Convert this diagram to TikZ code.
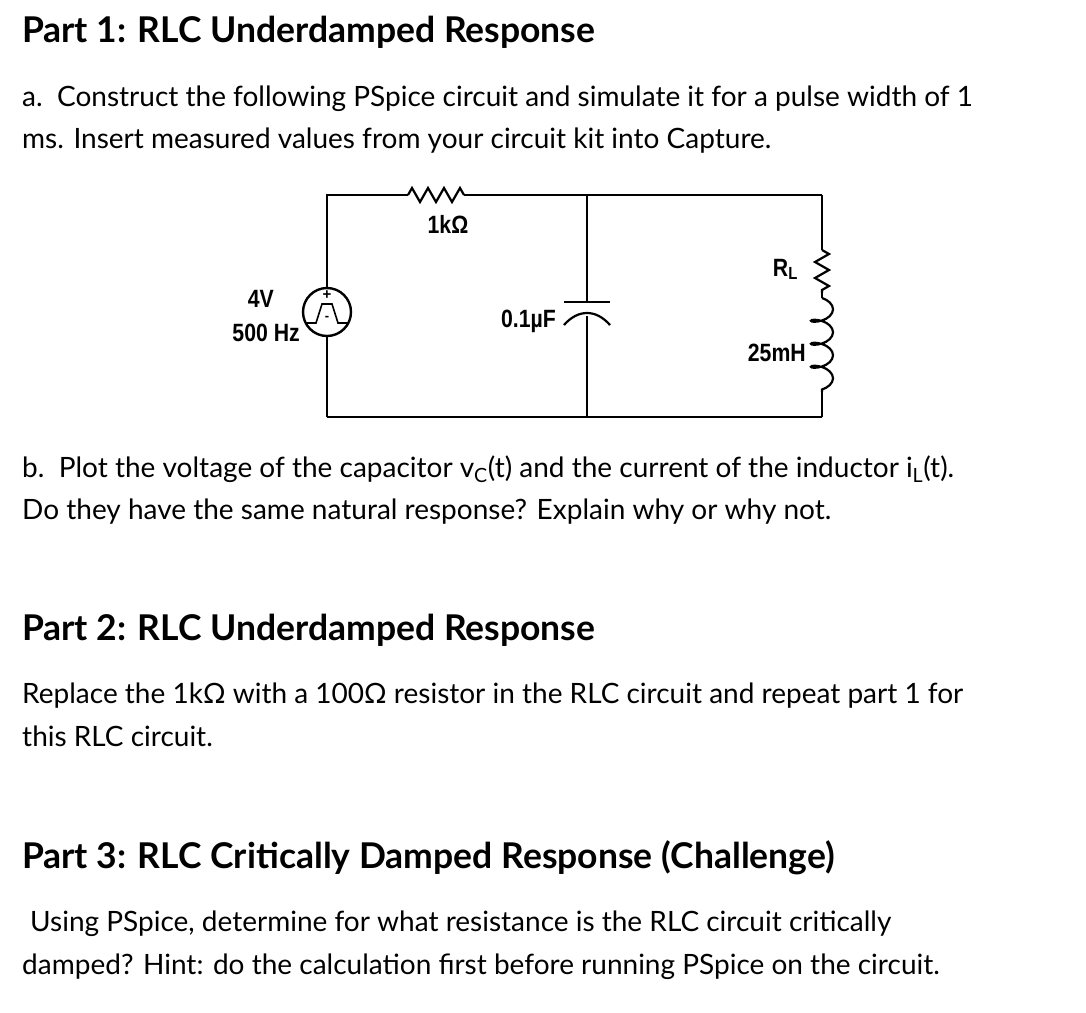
\documentclass[tikz,border=0pt]{standalone}
\usepackage{fontspec}
\setmainfont{Lato}
\newfontfamily\cfont{Liberation Sans}
\usetikzlibrary{decorations.pathmorphing}
\newcommand{\nar}[1]{\scalebox{0.85}[1]{#1}}
\begin{document}
\begin{tikzpicture}[x=1pt,y=-1pt,
  txt/.style={anchor=base west,inner sep=0pt,font=\fontsize{28}{32}\selectfont},
  ttl/.style={anchor=base west,inner sep=0pt,font=\fontsize{35.5}{40}\selectfont\bfseries},
  clab/.style={inner sep=0pt,font=\cfont\bfseries\fontsize{25}{27}\selectfont},
  wire/.style={line width=2.2pt},
  res/.style={wire,decorate,decoration={zigzag,segment length=16,amplitude=7}},
  ind/.style={wire,decorate,decoration={coil,aspect=0.5,segment length=23,amplitude=11}}]
\useasboundingbox (0,0) rectangle (1086,1012);
\node[ttl] (t1) at (22,42) {Part 1: RLC Underdamped Response};
\node[txt] (a1) at (22,106) {a.\ \ Construct the following PSpice circuit and simulate it for a pulse width of 1};
\node[txt] (a2) at (22,148) {ms. Insert measured values from your circuit kit into Capture.};
% circuit
\coordinate (tl) at (327,195); \coordinate (tr) at (822,195);
\coordinate (bl) at (327,417); \coordinate (br) at (822,417);
\coordinate (tc) at (587,195); \coordinate (bc) at (587,417);
\coordinate (r1a) at (408,195); \coordinate (r1b) at (464,195);
\node[circle,draw,line width=2.4pt,minimum size=48pt,inner sep=0pt] (src) at (327,312) {};
\draw[wire] (bl) -- (src.south); \draw[wire] (src.north) -- (tl) -- (r1a);
\draw[res] (r1a) -- (r1b);
\draw[wire] (r1b) -- (tr);
\draw[wire] (bl) -- (br);
\draw[wire] (tc) -- (587,302); \draw[wire] (587,316) -- (bc);
\draw[wire] (564,302) -- (610,302);
\draw[wire] (564,325) .. controls (578,309) and (596,309) .. (610,325);
\coordinate (rl1) at (822,250); \coordinate (rl2) at (822,293);
\coordinate (l1) at (822,298); \coordinate (l2) at (822,392);
\draw[wire] (tr) -- (rl1); \draw[res] (rl1) -- (rl2); \draw[wire] (rl2) -- (l1);
\draw[ind] (l1) -- (l2); \draw[wire] (l2) -- (br);
% source symbol
\draw[line width=1.6pt] (305,323) -- (316,323) -- (322,304) -- (332,304) -- (338,323) -- (349,323);
\node[inner sep=0pt,font=\cfont\bfseries\fontsize{15}{15}\selectfont] (plus) at (327,295) {+};
\node[inner sep=0pt,font=\cfont\bfseries\fontsize{13}{13}\selectfont] (minus) at (327,318) {-};
\node[clab] (l1k) at (448,224) {\nar{1kΩ}};
\node[clab,anchor=base east] (l4v) at (274,307) {\nar{4V}};
\node[clab,anchor=base east] (l500) at (300,341) {\nar{500 Hz}};
\node[clab,anchor=base east] (lc) at (556,327) {\nar{0.1µF}};
\node[clab,anchor=base east] (lrl) at (798,276) {\nar{R\textsubscript{L}}};
\node[clab,anchor=base east] (lind) at (806,361) {\nar{25mH}};
\node[txt] (b1) at (22,477) {b.\ \ Plot the voltage of the capacitor v\textsubscript{C}(t) and the current of the inductor i\textsubscript{L}(t).};
\node[txt] (b2) at (22,519) {Do they have the same natural response? Explain why or why not.};
\node[ttl] (t2) at (22,640) {Part 2: RLC Underdamped Response};
\node[txt] (p21) at (22,703) {Replace the 1kΩ with a 100Ω resistor in the RLC circuit and repeat part 1 for};
\node[txt] (p22) at (22,746) {this RLC circuit.};
\node[ttl] (t3) at (22,868) {Part 3: RLC Critically Damped Response (Challenge)};
\node[txt] (p31) at (30,931) {Using PSpice, determine for what resistance is the RLC circuit critically};
\node[txt] (p32) at (22,974) {damped? Hint: do the calculation first before running PSpice on the circuit.};
\end{tikzpicture}
\end{document}
